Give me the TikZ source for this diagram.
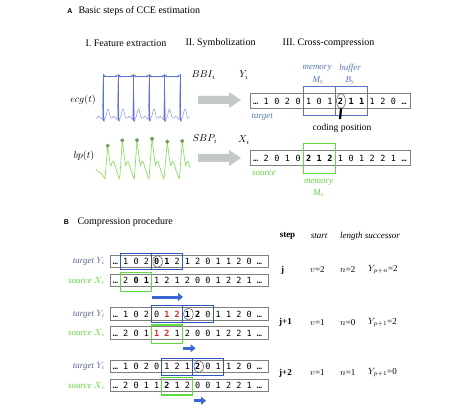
\documentclass[tikz,border=0pt]{standalone}
\usepackage{fontspec}
\setmainfont{Liberation Serif}
\newfontfamily\digitfont{DejaVu Sans Mono}
\newfontfamily\panelfont{Liberation Sans}
\usetikzlibrary{arrows.meta,shapes.geometric}

\definecolor{ecgviolet}{HTML}{9A9CF0}
\definecolor{bbiblue}{HTML}{5A74D4}
\definecolor{bpgreen}{HTML}{8ADF6A}
\definecolor{dotgreen}{HTML}{5E8F3A}
\definecolor{shaftgray}{HTML}{C3C9C9}
\definecolor{seqframe}{HTML}{7F7F7F}
\definecolor{memblue}{HTML}{5476C6}
\definecolor{boxblue}{HTML}{2F55C0}
\definecolor{boxgreen}{HTML}{5EDC3E}
\definecolor{labblue}{HTML}{5877B5}
\definecolor{slate}{HTML}{55658C}
\definecolor{srcgreen}{HTML}{5FD23C}
\definecolor{hired}{HTML}{E0202A}
\definecolor{moveblue}{HTML}{3A66D6}

\newcommand\bd[1]{\textbf{#1}}
\newcommand\rd[1]{\textcolor{hired}{\textbf{#1}}}
% one row of symbols: name, x of first cell, pitch, y, symbols
\newcommand\seqrow[5]{%
  \foreach \sym [count=\k] in {#5}
    \node[digit] (#1-\k) at ({#2+(\k-1)*#3},#4) {\sym};}
% window over cells: style, first, last, half cell, up, down
\newcommand\winbox[6]{%
  \draw[#1] ([shift={(-#4,-#5)}]#2) rectangle ([shift={(#4,#6)}]#3);}

\tikzset{
  title/.style={font=\fontsize{10}{12}\selectfont},
  panel/.style={font=\panelfont\bfseries\fontsize{7}{8}\selectfont},
  digit/.style={font=\digitfont\fontsize{8.5}{9}\selectfont,inner sep=0pt,
    text height=6.2pt,text depth=0pt},
  seqboxA/.style={draw=seqframe,line width=0.9pt,minimum width=160pt,minimum height=15pt},
  seqboxB/.style={draw=seqframe,line width=0.9pt,minimum width=158pt,minimum height=12.5pt},
  memA/.style={draw=memblue,line width=0.8pt},
  memB/.style={draw=boxblue,line width=1pt},
  srcwin/.style={draw=boxgreen,line width=1.1pt},
  codering/.style={draw=black!70,line width=0.5pt,ellipse,inner sep=0pt},
  codebar/.style={line width=2.2pt},
  movearrow/.style={moveblue,line width=3pt,-{Triangle[length=5pt,width=8pt]}},
  bbiarrow/.style={bbiblue,line width=0.5pt,{Stealth[length=2.5pt,width=2.5pt]}-{Stealth[length=2.5pt,width=2.5pt]}},
  bbimark/.style={bbiblue,line width=0.5pt},
  ecgline/.style={ecgviolet,line width=0.6pt,line join=round},
  bpline/.style={bpgreen,line width=0.7pt,line join=round},
  bpdot/.style={circle,fill=dotgreen!80,draw=dotgreen,inner sep=0pt,minimum size=3.6pt},
  blueital/.style={labblue,font=\itshape\fontsize{9}{10}\selectfont,inner sep=0pt},
  greenital/.style={srcgreen,font=\itshape\fontsize{9}{10}\selectfont,inner sep=0pt},
  rowlab/.style={anchor=east,font=\itshape\fontsize{9}{10}\selectfont,inner sep=0pt},
  tab/.style={anchor=west,font=\fontsize{9}{10}\selectfont,inner sep=0pt}
}

\begin{document}
\begin{tikzpicture}[x=1pt,y=-1pt]
  \useasboundingbox (0,0) rectangle (474,414);

  % panel A
  \node[panel] (pa) at (70,11.5) {A};
  \node[title,anchor=west] (ta) at (75,11.5) {Basic steps of CCE estimation};
  \node[title] (st1) at (126,43) {I. Feature extraction};
  \node[title] (st2) at (220.5,43) {II. Symbolization};
  \node[title] (st3) at (328.5,43) {III. Cross-compression};

  % ecg trace
  \draw[ecgline] (96,118) \foreach \rx in {103,118,133.5,149,164.5,180} {
      -- (\rx-6,118) .. controls (\rx-5,115.5) and (\rx-3.5,115.5) .. (\rx-2.5,118)
      -- (\rx-0.8,119.5) -- (\rx,82) -- (\rx+1,122) -- (\rx+2,118)
      .. controls (\rx+3.5,117) and (\rx+3.8,109) .. (\rx+5,109)
      .. controls (\rx+6.2,109) and (\rx+6.5,117) .. (\rx+8,118)
    } -- (190,118);
  \foreach \rx [count=\i] in {103,118,133.5,149,164.5,180} {
    \coordinate (rt\i) at (\rx,74.5);
    \coordinate (ra\i) at (\rx,76);
    \coordinate (rb\i) at (\rx,121);
    \draw[bbimark] (rt\i) -- (rb\i);
  }
  \foreach \i [remember=\i as \lasti (initially 1)] in {2,...,6}
    \draw[bbiarrow] (ra\lasti) -- (ra\i);
  \node[anchor=west] (bbi) at (188,75) {$BBI_i$};
  \node (ecg) at (83,100) {$ecg(t)$};

  % blood pressure trace
  \draw[bpline] (96,169) .. controls (98,173) and (100,171) .. (102,174) -- (105,179)
    \foreach \px/\py in {107.7/145.7,122.3/140.3,137/140.3,152/138.7,167.3/141.7} {
      -- (\px,\py) .. controls (\px+1,\py+8) and (\px+2,\py+18) .. (\px+3.5,166)
      .. controls (\px+4.5,161) and (\px+5.5,160) .. (\px+6.5,163)
      .. controls (\px+8,167) and (\px+10,176) .. (\px+12,179)
    }
    -- (182.3,141) .. controls (183.3,149) and (184.3,159) .. (185.8,166)
    .. controls (186.8,161) and (187.8,160) .. (188.8,163) -- (190,168);
  \foreach \px/\py [count=\i] in {107.7/145.7,122.3/140.3,137/140.3,152/138.7,167.3/141.7,182.3/141}
    \node[bpdot] (sbp\i) at (\px,\py) {};
  \node[anchor=west] (sbp) at (189,139) {$SBP_i$};
  \node (bp) at (84,156) {$bp(t)$};

  % symbolization arrows
  \fill[shaftgray] (198,96) -- (229,96) -- (229,92) -- (241,100) -- (229,108) -- (229,104) -- (198,104) -- cycle;
  \fill[shaftgray] (198,154) -- (229,154) -- (229,150) -- (241,158) -- (229,166) -- (229,162) -- (198,162) -- cycle;

  % target sequence
  \node (yi) at (244,75) {$Y_i$};
  \node[seqboxA] (boxya) at (330,101) {};
  \seqrow{ya}{255.7}{10.6}{101}{…,1,0,2,0,1,0,1,\bd{2},\bd{1},\bd{1},1,2,0,…}
  \winbox{memA}{ya-6}{ya-8}{5.3}{14.5}{14.8}
  \winbox{memA}{ya-9}{ya-11}{5.3}{14.5}{14.8}
  \node[codering,minimum width=9pt,minimum height=14.5pt] (cp) at ([xshift=0.5pt]ya-9) {};
  \coordinate (cpfoot) at (340,119);
  \draw[codebar] (cpfoot) -- (cp.south);
  \node[blueital] (mya) at (317,68.5) {memory};
  \node[blueital] (myb) at (318,80.5) {\textit{M}\textsubscript{\textit{y}}};
  \node[blueital] (bya) at (350,68.5) {buffer};
  \node[blueital] (byb) at (350,80.5) {\textit{B}\textsubscript{\textit{y}}};
  \node[blueital,anchor=west] (tga) at (251.5,117) {target};
  \node[font=\fontsize{9.5}{11}\selectfont] (cpl) at (342,128) {coding position};

  % source sequence
  \node (xi) at (244,140) {$X_i$};
  \node[seqboxA] (boxxa) at (330,158) {};
  \seqrow{xa}{255.7}{10.6}{158}{…,2,0,1,0,\bd{2},\bd{1},\bd{2},1,0,1,2,2,1,…}
  \winbox{srcwin}{xa-6}{xa-8}{5.3}{14.8}{15.2}
  \node[greenital,anchor=west] (sca) at (252,173.5) {source};
  \node[greenital] (mxa) at (318.5,182) {memory};
  \node[greenital] (mxb) at (318.5,193.5) {\textit{M}\textsubscript{\textit{x}}};

  % panel B
  \node[panel] (pb) at (66.5,222) {B};
  \node[title,anchor=west] (tb) at (74,222) {Compression procedure};
  \node[font=\bfseries\fontsize{9}{10}\selectfont] (hstep) at (287.5,236) {step};
  \node[font=\itshape\fontsize{9}{10}\selectfont] (hstart) at (319,236) {start};
  \node[tab,font=\itshape\fontsize{9}{10}\selectfont] (hlen) at (340,236) {length successor};

  % step j
  \node[rowlab,slate] (ly1) at (105,261.5) {target $Y_i$};
  \node[rowlab,srcgreen] (lx1) at (105,280.5) {source $X_i$};
  \node[seqboxB] (boxy1) at (189,261.5) {};
  \node[seqboxB] (boxx1) at (189,280.5) {};
  \seqrow{yb1}{115.5}{10.28}{261.5}{…,1,0,2,\bd{0},\bd{1},2,1,2,0,1,1,2,0,…}
  \seqrow{xb1}{115.5}{10.28}{280.5}{…,2,\bd{0},\bd{1},1,2,1,2,0,0,1,2,2,1,…}
  \winbox{memB}{yb1-2}{yb1-4}{5.14}{8.3}{8.5}
  \winbox{memB}{yb1-5}{yb1-7}{5.14}{8.3}{8.5}
  \winbox{srcwin}{xb1-2}{xb1-4}{5.14}{8.2}{11}
  \node[codering,minimum width=9.5pt,minimum height=12pt] (cp1) at ([xshift=1pt]yb1-5) {};
  \coordinate (mv1a) at (152,297);
  \coordinate (mv1b) at (183,297);
  \draw[movearrow] (mv1a) -- (mv1b);
  \node[tab,font=\bfseries\fontsize{9}{10}\selectfont] (s1) at (281,270) {j};
  \node[tab] (v1) at (310,270) {$v$=2};
  \node[tab] (n1) at (340,270) {$n$=2};
  \node[tab] (y1) at (368,270) {$Y_{p+n}$=2};

  % step j+1
  \node[rowlab,slate] (ly2) at (105,314) {target $Y_i$};
  \node[rowlab,srcgreen] (lx2) at (105,333) {source $X_i$};
  \node[seqboxB] (boxy2) at (189,314) {};
  \node[seqboxB] (boxx2) at (189,333) {};
  \seqrow{yb2}{115.5}{10.28}{314}{…,1,0,2,0,\rd{1},\rd{2},\bd{1},\bd{2},0,1,1,2,0,…}
  \seqrow{xb2}{115.5}{10.28}{333}{…,2,0,1,\rd{1},\rd{2},1,2,0,0,1,2,2,1,…}
  \winbox{memB}{yb2-5}{yb2-7}{5.14}{8.8}{8.8}
  \winbox{memB}{yb2-8}{yb2-10}{5.14}{8.8}{8.8}
  \winbox{srcwin}{xb2-5}{xb2-7}{5.14}{8}{10.3}
  \node[codering,minimum width=9.5pt,minimum height=12pt] (cp2) at ([xshift=1pt]yb2-8) {};
  \coordinate (mv2a) at (183,348.3);
  \coordinate (mv2b) at (195.5,348.3);
  \draw[movearrow] (mv2a) -- (mv2b);
  \node[tab,font=\bfseries\fontsize{9}{10}\selectfont] (s2) at (279,322.5) {j+1};
  \node[tab] (v2) at (310,322.5) {$v$=1};
  \node[tab] (n2) at (340,322.5) {$n$=0};
  \node[tab] (y2) at (368,322.5) {$Y_{p+1}$=2};

  % step j+2
  \node[rowlab,slate] (ly3) at (105,366.5) {target $Y_i$};
  \node[rowlab,srcgreen] (lx3) at (105,385.5) {source $X_i$};
  \node[seqboxB] (boxy3) at (189,366.5) {};
  \node[seqboxB] (boxx3) at (189,385.5) {};
  \seqrow{yb3}{115.5}{10.28}{366.5}{…,1,0,2,0,1,2,1,\bd{2},0,1,1,2,0,…}
  \seqrow{xb3}{115.5}{10.28}{385.5}{…,2,0,1,1,\bd{2},1,2,0,0,1,2,2,1,…}
  \winbox{memB}{yb3-6}{yb3-8}{5.14}{8.5}{8.5}
  \winbox{memB}{yb3-9}{yb3-11}{5.14}{8.5}{8.5}
  \winbox{srcwin}{xb3-6}{xb3-8}{5.14}{8.3}{9.5}
  \node[codering,minimum width=9.5pt,minimum height=12pt] (cp3) at ([xshift=1pt]yb3-9) {};
  \coordinate (mv3a) at (193.5,400.7);
  \coordinate (mv3b) at (206,400.7);
  \draw[movearrow] (mv3a) -- (mv3b);
  \node[tab,font=\bfseries\fontsize{9}{10}\selectfont] (s3) at (279,373) {j+2};
  \node[tab] (v3) at (310,373) {$v$=1};
  \node[tab] (n3) at (340,373) {$n$=1};
  \node[tab] (y3) at (368,373) {$Y_{p+1}$=0};
\end{tikzpicture}
\end{document}
